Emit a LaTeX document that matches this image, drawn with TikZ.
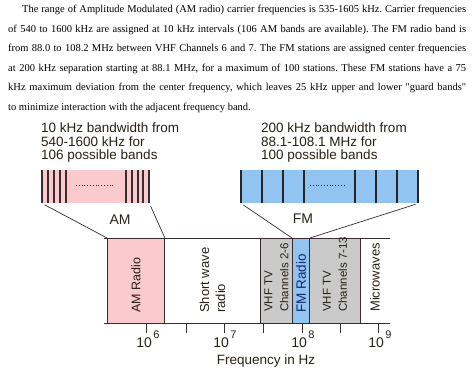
\documentclass[tikz,border=0pt]{standalone}
\usepackage{fontspec}
\setmainfont{Liberation Serif}[Ligatures=TeXOff]
\setsansfont{Liberation Sans}
\definecolor{amfill}{RGB}{250,202,206}
\definecolor{fmfill}{RGB}{146,196,242}
\definecolor{tvfill}{RGB}{202,202,202}
\definecolor{edge}{RGB}{55,45,45}
\definecolor{ink}{RGB}{40,32,22}
\definecolor{fmink}{RGB}{20,40,110}
\tikzstyle{para} = [anchor=north west, inner sep=0pt, text width=458pt, align=justify, font={\fontsize{10.5}{19.6}\selectfont\frenchspacing}]
\tikzstyle{caption} = [anchor=north west, inner sep=0pt, align=left, text=ink, font={\sffamily\fontsize{13.5}{13.5}\selectfont}]
\tikzstyle{band} = [anchor=north west, inner sep=0pt, minimum height=33pt]
\tikzstyle{slot} = [draw=edge, line width=1.1pt]
\tikzstyle{segment} = [draw=edge, line width=0.9pt, anchor=north west, inner sep=0pt, minimum height=85pt]
\tikzstyle{seglabel} = [rotate=90, anchor=west, inner sep=0pt, align=left, text=ink, font={\sffamily\fontsize{13}{16}\selectfont}]
\tikzstyle{tvlabel} = [seglabel, font={\sffamily\fontsize{11.5}{16}\selectfont}]
\tikzstyle{fan} = [draw=edge, line width=0.7pt, shorten <=3pt]
\tikzstyle{bandname} = [text=ink, font={\sffamily\fontsize{14}{14}\selectfont}]
\tikzstyle{decade} = [anchor=base, inner sep=0pt, text=ink, font={\sffamily\fontsize{14}{14}\selectfont}]
\newcommand{\tenpow}[1]{10\hspace{1.5pt}\raisebox{9pt}{\fontsize{11}{11}\selectfont #1}}

\begin{document}
\begin{tikzpicture}[x=1pt,y=-1pt]
  \useasboundingbox (0,0) rectangle (474,371);
  \node[para] (intro) at (8,5) {\hspace*{14pt}The range of Amplitude Modulated (AM radio) carrier frequencies is 535-1605 kHz. Carrier frequencies\linebreak
  of 540 to 1600 kHz are assigned at 10 kHz intervals (106 AM bands are available). The FM radio band is\linebreak
  from 88.0 to 108.2 MHz between VHF Channels 6 and 7. The FM stations are assigned center frequencies\linebreak
  at 200 kHz separation starting at 88.1 MHz, for a maximum of 100 stations. These FM stations have a 75\linebreak
  kHz maximum deviation from the center frequency, which leaves 25 kHz upper and lower "guard bands"\linebreak
  to minimize interaction with the adjacent frequency band.};

  \node[caption] (amtext) at (41,123) {10 kHz bandwidth from\\540-1600 kHz for\\106 possible bands};
  \node[caption] (fmtext) at (261,123) {200 kHz bandwidth from\\88.1-108.1 MHz for\\100 possible bands};

  \node[band,fill=amfill,minimum width=107pt](amband) at (42,170){};
  \foreach \x in {42,48,54,60,66,126,132,138,143,149}
    \draw[slot] (\x,170) -- (\x,203);
  \draw[edge,dotted,thick] (76,185) -- (113,185);
  \node[band,fill=fmfill,minimum width=177pt](fmband) at (241,170){};
  \foreach \x in {241,262,283,304,355,376,397,418}
    \draw[slot,draw=black!85] (\x,170) -- (\x,203);
  \draw[fmink,dotted,thick] (310,185) -- (344,185);

  \node[bandname](am) at (120,219.5){AM};
  \node[bandname](fm) at (303,219){FM};

  \node[segment,fill=amfill,minimum width=57pt](amradio) at (107,238){};
  \node[segment,minimum width=96pt](shortwave) at (164,238){};
  \node[segment,fill=tvfill,minimum width=32pt](vhflow) at (260,238){};
  \node[segment,fill=fmfill,minimum width=17pt](fmradio) at (292,238){};
  \node[segment,fill=tvfill,minimum width=51pt](vhfhigh) at (309,238){};
  \coordinate (barstart) at (104,238);
  \coordinate (barend) at (390,238);
  \draw[edge,line width=0.9pt] (barstart) -- (barend);
  \draw[edge,line width=0.9pt] ([yshift=-85pt]barstart) -- ([yshift=-85pt]barend);

  \node[seglabel,font={\sffamily\fontsize{12.5}{16}\selectfont}] at ([yshift=11pt]amradio.south) {AM Radio};
  \node[seglabel] at ([yshift=11pt]shortwave.south) {Short wave\\radio};
  \node[tvlabel] at ([yshift=12pt]vhflow.south) {VHF TV\\Channels 2-6};
  \node[seglabel,text=fmink,font={\sffamily\fontsize{13.5}{16}\selectfont}] at ([yshift=11pt]fmradio.south) {FM Radio};
  \node[tvlabel] at ([yshift=12pt]vhfhigh.south) {VHF TV\\Channels 7-13};
  \node[seglabel] at (375,312) {Microwaves};

  \draw[fan](amband.south west) -- (amradio.north west);
  \draw[fan](amband.south east) -- (amradio.north east);
  \draw[fan](fmband.south west) -- (fmradio.north west);
  \draw[fan](fmband.south east) -- (fmradio.north east);

  \foreach \x in {146,186,224,263,302,340,378}
    \draw[edge,line width=0.9pt] (\x,324) -- (\x,333);
  \foreach \x/\e in {148/6,225/7,303/8,380/9}
    \node[decade](d\e) at (\x,348) {\tenpow{\e}};
  \node[decade,font={\sffamily\fontsize{13.5}{13.5}\selectfont}](axis) at (266,365) {Frequency in Hz};
\end{tikzpicture}
\end{document}
